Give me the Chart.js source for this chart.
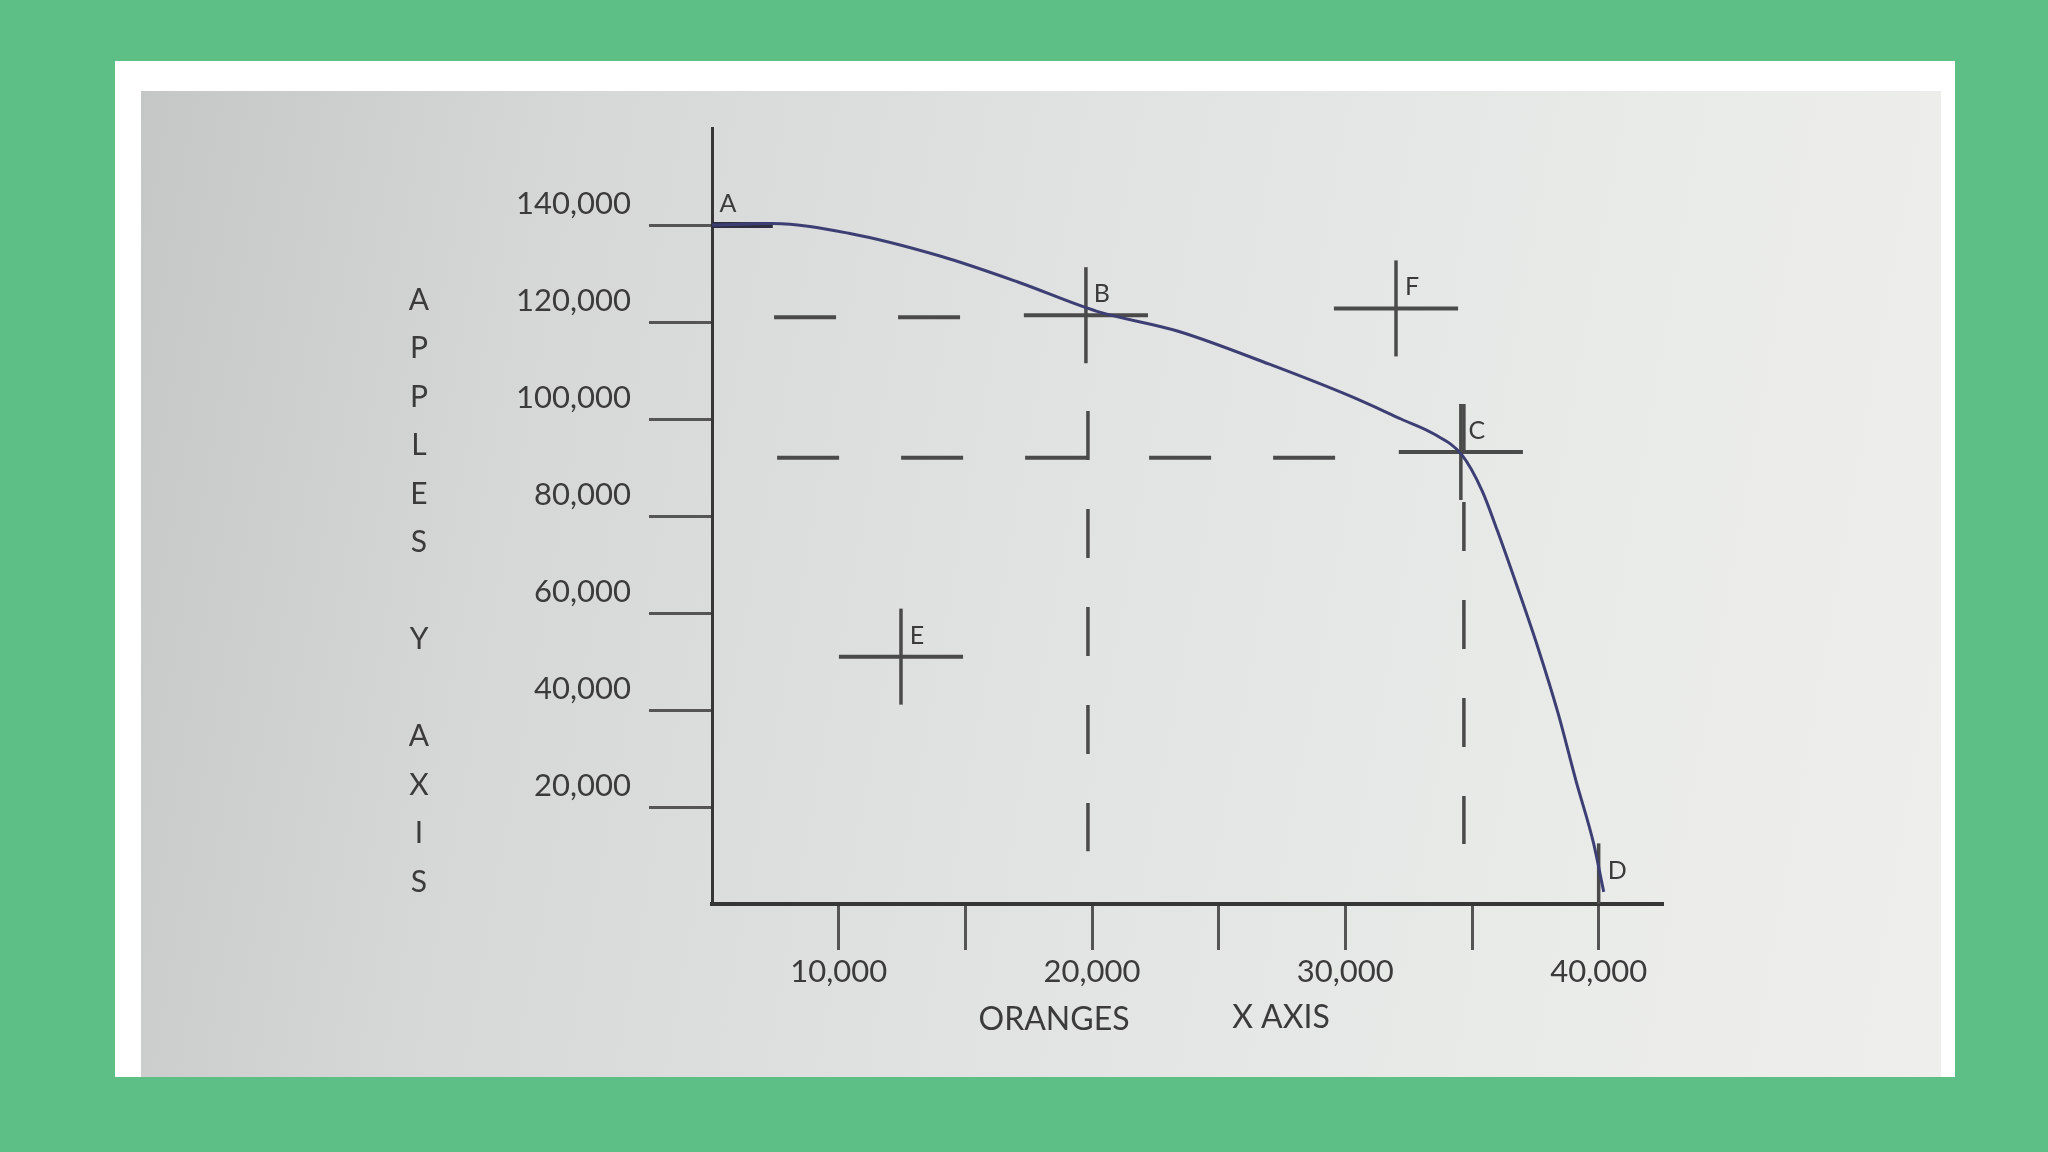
<!DOCTYPE html>
<html>
<head>
<meta charset="utf-8">
<title>Apples and oranges production possibilities</title>
<script src="https://cdn.jsdelivr.net/npm/chart.js@4.4.1/dist/chart.umd.min.js"></script>
<style>
  html, body { margin: 0; padding: 0; }
  body { width: 2048px; height: 1152px; background: #5dbf85; position: relative; overflow: hidden; }
  #frame { position: absolute; left: 115px; top: 61px; width: 1840px; height: 1016px; background: #ffffff; }
  #paper {
    position: absolute; left: 141px; top: 91px; width: 1800px; height: 986px;
    background: linear-gradient(100deg, #c5c7c6 0%, #d6d8d7 22%, #e1e3e2 50%, #e9ebe9 78%, #eeefed 100%);
  }
  #chart { position: absolute; left: 0; top: 0; }
</style>
</head>
<body>
<div id="frame"></div>
<div id="paper"></div>
<canvas id="chart" width="2048" height="1152"></canvas>
<script>
// axis ticks
const xTickValues = [10000, 15000, 20000, 25000, 30000, 35000, 40000];
const xLabelValues = [10000, 20000, 30000, 40000];
const yTickValues = [20000, 40000, 60000, 80000, 100000, 120000, 140000];

// production possibility curve
const ppfOranges = [5000, 7400, 10400, 14000, 17100, 20200, 23400, 27000, 30200, 32200, 33500, 34600, 35400, 36000, 36800, 37600, 38400, 39100, 39800, 40200];
const ppfApples = [140000, 140300, 138300, 133600, 128200, 122200, 118100, 111300, 104700, 100000, 96900, 92600, 85200, 77000, 65200, 52900, 39300, 25500, 12500, 2500];

// lettered points
const pointNames = ["A", "B", "C", "D", "E", "F"];
const pointOranges = [5000, 19760, 34560, 40100, 12460, 32000];
const pointApples = [140000, 121400, 93200, 2500, 51000, 122800];
const crossPoints = ["B", "C", "E", "F"];

// dashed guide lines
const hGuideApples = [121000, 92000];
const hGuideFrom = [7450, 7570];
const hGuideTo = [17240, 32000];
const vGuideOranges = [19840, 34680];
const vGuideTop = [101650, 103090];
const vGuideBottom = [10900, 12350];

const yTitle = "APPLES Y AXIS";
const xTitle = ["ORANGES", "X AXIS"];

const ink = "#4a4a4a";
const textInk = "#3b3b3b";
const armX = 2450;
const armY = 9900;

function segment(x0, y0, x1, y1, opts) {
  return Object.assign({
    data: [{ x: x0, y: y0 }, { x: x1, y: y1 }],
    borderColor: ink,
    borderWidth: 3.5,
    pointRadius: 0,
    tension: 0,
  }, opts || {});
}

const datasets = [];

// curve
datasets.push({
  label: "PPF",
  data: ppfOranges.map((x, i) => ({ x: x, y: ppfApples[i] })),
  borderColor: "#3d3f74",
  borderWidth: 3,
  pointRadius: 0,
  cubicInterpolationMode: "monotone",
});
// heavy stroke at A
datasets.push(segment(pointOranges[0], pointApples[0], ppfOranges[1], pointApples[0], { borderColor: "#2e2e40", borderWidth: 6 }));

// guides
hGuideApples.forEach((y, i) => {
  datasets.push(segment(hGuideFrom[i], y, hGuideTo[i], y, { borderDash: [62, 62], borderWidth: 4 }));
});
vGuideOranges.forEach((x, i) => {
  datasets.push(segment(x, vGuideTop[i], x, vGuideBottom[i], { borderDash: [49, 49], borderWidth: 3.5 }));
});

// crosses
crossPoints.forEach(name => {
  const i = pointNames.indexOf(name);
  const x = pointOranges[i], y = pointApples[i];
  datasets.push(segment(x - armX, y, x + armX, y, { borderWidth: 4 }));
  datasets.push(segment(x, y - armY, x, y + armY));
});
// marker at D
datasets.push(segment(40000, 0, 40000, 12500));

const sketchText = {
  id: "sketchText",
  afterDraw(chart) {
    const ctx = chart.ctx;
    const xs = chart.scales.x, ys = chart.scales.y;
    ctx.save();
    ctx.fillStyle = textInk;
    ctx.textAlign = "center";
    ctx.textBaseline = "middle";

    // stacked y title
    ctx.font = "30px Lato";
    yTitle.split("").forEach((ch, i) => {
      ctx.fillText(ch, 419, 300 + i * 48.5);
    });

    // x title
    ctx.font = "32px Lato";
    ctx.fillText(xTitle[0], 1054, 1020);
    ctx.fillText(xTitle[1], 1281, 1018);

    // point letters
    ctx.font = "25px Lato";
    pointNames.forEach((name, i) => {
      const px = xs.getPixelForValue(pointOranges[i]);
      const py = ys.getPixelForValue(pointApples[i]);
      ctx.fillText(name, px + 16, py - 21);
    });
    ctx.restore();
  },
};

new Chart(document.getElementById("chart"), {
  type: "line",
  data: { datasets: datasets },
  options: {
    responsive: false,
    animation: false,
    devicePixelRatio: 1,
    layout: { padding: { left: 0, top: 128, right: 386, bottom: 0 } },
    plugins: {
      legend: { display: false },
      tooltip: { enabled: false },
    },
    scales: {
      x: {
        type: "linear",
        min: 5000,
        max: 42500,
        afterBuildTicks: s => { s.ticks = xTickValues.map(v => ({ value: v })); },
        afterFit: s => { s.height = 248; },
        border: { display: true, color: "#363636", width: 4 },
        grid: { drawOnChartArea: false, drawTicks: true, tickLength: 46, color: "#555555", lineWidth: 3 },
        ticks: {
          autoSkip: false,
          maxRotation: 0,
          padding: 3,
          color: textInk,
          font: { family: "Lato", size: 31 },
          callback: v => (xLabelValues.includes(v) ? v.toLocaleString("en-US") : ""),
        },
      },
      y: {
        min: 0,
        max: 160000,
        afterBuildTicks: s => { s.ticks = yTickValues.map(v => ({ value: v })); },
        afterFit: s => { s.width = 712; },
        border: { display: true, color: "#363636", width: 3 },
        grid: { drawOnChartArea: false, drawTicks: true, tickLength: 63, color: "#555555", lineWidth: 3 },
        ticks: {
          padding: 18,
          labelOffset: -21,
          color: textInk,
          font: { family: "Lato", size: 31 },
          callback: v => v.toLocaleString("en-US"),
        },
      },
    },
  },
  plugins: [sketchText],
});
</script>
</body>
</html>
